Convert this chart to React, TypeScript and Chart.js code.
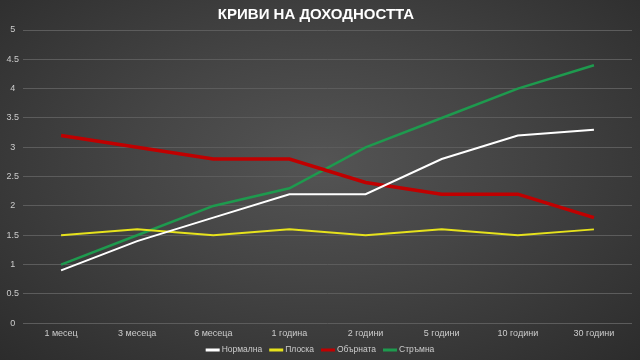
import React, { useEffect, useRef } from "react";
import { Chart, registerables } from "chart.js";

Chart.register(...registerables);

const categories = ["1 месец", "3 месеца", "6 месеца", "1 година", "2 години", "5 години", "10 години", "30 години"];
const normal = [0.9, 1.4, 1.8, 2.2, 2.2, 2.8, 3.2, 3.3];
const flat = [1.5, 1.6, 1.5, 1.6, 1.5, 1.6, 1.5, 1.6];
const inverted = [3.2, 3.0, 2.8, 2.8, 2.4, 2.2, 2.2, 1.8];
const steep = [1.0, 1.5, 2.0, 2.3, 3.0, 3.5, 4.0, 4.4];

const FONT = "'Liberation Sans', Arial, sans-serif";

const bottomLegend = {
  id: "bottomLegend",
  afterDraw(chart: any) {
    const ctx = chart.ctx;
    const items = chart.data.datasets.map((d: any) => ({ label: d.label, color: d.borderColor }));
    ctx.save();
    ctx.font = `8.5px ${FONT}`;
    const boxW = 14;
    const gapBox = 2;
    const gapItem = 7;
    const widths = items.map((it: any) => boxW + gapBox + ctx.measureText(it.label).width);
    const total = widths.reduce((a: number, b: number) => a + b, 0) + gapItem * (items.length - 1);
    let x = chart.width / 2 - total / 2;
    const y = 350;
    ctx.textBaseline = "middle";
    ctx.textAlign = "left";
    items.forEach((it: any, i: number) => {
      ctx.fillStyle = it.color;
      ctx.fillRect(x, y - 1.5, boxW, 3);
      ctx.fillStyle = "#cccccc";
      ctx.fillText(it.label, x + boxW + gapBox, y);
      x += widths[i] + gapItem;
    });
    ctx.restore();
  },
};

export default function App() {
  const ref = useRef<HTMLCanvasElement | null>(null);
  useEffect(() => {
    if (!ref.current) return;
    const chart = new Chart(ref.current, {
      type: "line",
      data: {
        labels: categories,
        datasets: [
          { label: "Нормална", data: normal, borderColor: "#ffffff", backgroundColor: "#ffffff", borderWidth: 2, pointRadius: 0, tension: 0 },
          { label: "Плоска", data: flat, borderColor: "#e6e21c", backgroundColor: "#e6e21c", borderWidth: 2, pointRadius: 0, tension: 0 },
          { label: "Обърната", data: inverted, borderColor: "#c00000", backgroundColor: "#c00000", borderWidth: 3.5, pointRadius: 0, tension: 0 },
          { label: "Стръмна", data: steep, borderColor: "#1e9a4e", backgroundColor: "#1e9a4e", borderWidth: 2.5, pointRadius: 0, tension: 0 },
        ],
      },
      plugins: [bottomLegend],
      options: {
        responsive: false,
        animation: false,
        layout: { padding: { left: 0, right: 8, top: 0, bottom: 16 } },
        plugins: {
          title: {
            display: true,
            text: "КРИВИ НА ДОХОДНОСТТА",
            color: "#ffffff",
            font: { family: FONT, size: 15, weight: "bold" },
            padding: { top: 6, bottom: 6 },
          },
          legend: { display: false },
          tooltip: { enabled: false },
        },
        scales: {
          x: {
            offset: true,
            grid: { display: false, drawTicks: false, tickLength: 0 },
            border: { display: false },
            ticks: { color: "#cccccc", font: { family: FONT, size: 9 }, padding: 5, maxRotation: 0 },
          },
          y: {
            min: 0,
            max: 5,
            ticks: {
              stepSize: 0.5,
              color: "#cccccc",
              font: { family: FONT, size: 9 },
              padding: 4,
              crossAlign: "center",
              callback: (v: any) => String(Number(v)),
            },
            grid: { color: "#5c5c5c", lineWidth: 1, drawTicks: false },
            border: { display: false },
            afterFit: (s: any) => { s.width = 23; },
          },
        },
      },
    });
    return () => chart.destroy();
  }, []);
  return (
    <div
      style={{
        position: "fixed",
        left: 0,
        top: 0,
        width: 640,
        height: 360,
        background: "radial-gradient(ellipse at 50% 45%, #545454 0%, #454545 40%, #2c2c2c 100%)",
      }}
    >
      <canvas ref={ref} width={640} height={360} style={{ display: "block" }} />
    </div>
  );
}
